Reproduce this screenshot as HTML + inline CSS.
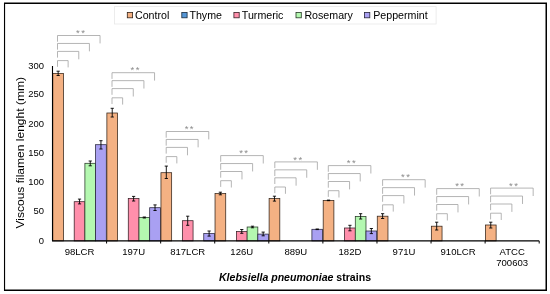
<!DOCTYPE html>
<html><head><meta charset="utf-8"><title>Chart</title>
<style>html,body{margin:0;padding:0;background:#fff}svg{display:block}text{font-family:"Liberation Sans",sans-serif;fill:#000}</style></head><body>
<svg width="550" height="294" viewBox="0 0 550 294">
<rect width="550" height="294" fill="#fff"/>
<path fill-rule="evenodd" fill="#000" d="M3.97 2.4H547V291H3.97ZM5.1 4V289.45H545.5V4Z"/>
<rect x="114.4" y="6.6" width="321.7" height="17.4" fill="#fff" stroke="#e8e8e8" stroke-width="0.8"/>
<rect x="127.3" y="12.5" width="5.3" height="5.3" fill="#F4B183" stroke="#33241a" stroke-width="0.8"/>
<text x="135.0" y="19" font-size="10.67">Control</text>
<rect x="181.8" y="12.5" width="5.3" height="5.3" fill="#5596D6" stroke="#182a3c" stroke-width="0.8"/>
<text x="189.4" y="19" font-size="10.67">Thyme</text>
<rect x="233.9" y="12.5" width="5.3" height="5.3" fill="#FF8FAB" stroke="#361e25" stroke-width="0.8"/>
<text x="241.8" y="19" font-size="10.67">Turmeric</text>
<rect x="296.0" y="12.5" width="5.3" height="5.3" fill="#B4F8B0" stroke="#263826" stroke-width="0.8"/>
<text x="304.4" y="19" font-size="10.67">Rosemary</text>
<rect x="364.5" y="12.5" width="5.3" height="5.3" fill="#A9A0F2" stroke="#25233a" stroke-width="0.8"/>
<text x="373.2" y="19" font-size="10.67">Peppermint</text>
<rect x="52.80" y="73.4" width="10.7" height="167.50" fill="#F4B183" stroke="#33241a" stroke-width="0.75"/>
<path d="M58.15 71.2V75.5M56.55 71.2h3.2M56.55 75.5h3.2" stroke="#000" stroke-width="0.9" fill="none"/>
<rect x="74.20" y="201.7" width="10.7" height="39.20" fill="#FF8FAB" stroke="#361e25" stroke-width="0.75"/>
<path d="M79.55 199.1V203.9M77.95 199.1h3.2M77.95 203.9h3.2" stroke="#000" stroke-width="0.9" fill="none"/>
<rect x="84.90" y="163.3" width="10.7" height="77.60" fill="#B4F8B0" stroke="#263826" stroke-width="0.75"/>
<path d="M90.25 161V165.8M88.65 161h3.2M88.65 165.8h3.2" stroke="#000" stroke-width="0.9" fill="none"/>
<rect x="95.60" y="144.7" width="10.7" height="96.20" fill="#A9A0F2" stroke="#25233a" stroke-width="0.75"/>
<path d="M100.95 140.7V149M99.35 140.7h3.2M99.35 149h3.2" stroke="#000" stroke-width="0.9" fill="none"/>
<rect x="106.88" y="113.0" width="10.7" height="127.90" fill="#F4B183" stroke="#33241a" stroke-width="0.75"/>
<path d="M112.23 108.3V117M110.63 108.3h3.2M110.63 117h3.2" stroke="#000" stroke-width="0.9" fill="none"/>
<rect x="128.28" y="198.6" width="10.7" height="42.30" fill="#FF8FAB" stroke="#361e25" stroke-width="0.75"/>
<path d="M133.63 196.4V201M132.03 196.4h3.2M132.03 201h3.2" stroke="#000" stroke-width="0.9" fill="none"/>
<rect x="138.98" y="217.5" width="10.7" height="23.40" fill="#B4F8B0" stroke="#263826" stroke-width="0.75"/>
<path d="M144.33 217V218M142.73 217h3.2M142.73 218h3.2" stroke="#000" stroke-width="0.9" fill="none"/>
<rect x="149.68" y="207.7" width="10.7" height="33.20" fill="#A9A0F2" stroke="#25233a" stroke-width="0.75"/>
<path d="M155.03 204.9V210.5M153.43 204.9h3.2M153.43 210.5h3.2" stroke="#000" stroke-width="0.9" fill="none"/>
<rect x="160.96" y="172.7" width="10.7" height="68.20" fill="#F4B183" stroke="#33241a" stroke-width="0.75"/>
<path d="M166.31 166.1V178.5M164.71 166.1h3.2M164.71 178.5h3.2" stroke="#000" stroke-width="0.9" fill="none"/>
<rect x="182.36" y="220.7" width="10.7" height="20.20" fill="#FF8FAB" stroke="#361e25" stroke-width="0.75"/>
<path d="M187.71 216.2V225.3M186.11 216.2h3.2M186.11 225.3h3.2" stroke="#000" stroke-width="0.9" fill="none"/>
<rect x="203.76" y="233.6" width="10.7" height="7.30" fill="#A9A0F2" stroke="#25233a" stroke-width="0.75"/>
<path d="M209.11 231V236.1M207.51 231h3.2M207.51 236.1h3.2" stroke="#000" stroke-width="0.9" fill="none"/>
<rect x="215.03" y="193.5" width="10.7" height="47.40" fill="#F4B183" stroke="#33241a" stroke-width="0.75"/>
<path d="M220.38 192.2V194.8M218.78 192.2h3.2M218.78 194.8h3.2" stroke="#000" stroke-width="0.9" fill="none"/>
<rect x="236.43" y="231.6" width="10.7" height="9.30" fill="#FF8FAB" stroke="#361e25" stroke-width="0.75"/>
<path d="M241.78 229.5V233.3M240.18 229.5h3.2M240.18 233.3h3.2" stroke="#000" stroke-width="0.9" fill="none"/>
<rect x="247.13" y="227" width="10.7" height="13.90" fill="#B4F8B0" stroke="#263826" stroke-width="0.75"/>
<path d="M252.48 226.2V227.8M250.88 226.2h3.2M250.88 227.8h3.2" stroke="#000" stroke-width="0.9" fill="none"/>
<rect x="257.83" y="234.1" width="10.7" height="6.80" fill="#A9A0F2" stroke="#25233a" stroke-width="0.75"/>
<path d="M263.18 232.1V235.8M261.58 232.1h3.2M261.58 235.8h3.2" stroke="#000" stroke-width="0.9" fill="none"/>
<rect x="269.11" y="198.5" width="10.7" height="42.40" fill="#F4B183" stroke="#33241a" stroke-width="0.75"/>
<path d="M274.46 196.2V201.1M272.86 196.2h3.2M272.86 201.1h3.2" stroke="#000" stroke-width="0.9" fill="none"/>
<rect x="311.91" y="229.3" width="10.7" height="11.60" fill="#A9A0F2" stroke="#25233a" stroke-width="0.75"/>
<path d="M317.26 229V229.6M315.66 229h3.2M315.66 229.6h3.2" stroke="#000" stroke-width="0.9" fill="none"/>
<rect x="323.19" y="200.4" width="10.7" height="40.50" fill="#F4B183" stroke="#33241a" stroke-width="0.75"/>
<path d="M328.54 200.1V200.7M326.94 200.1h3.2M326.94 200.7h3.2" stroke="#000" stroke-width="0.9" fill="none"/>
<rect x="344.59" y="228" width="10.7" height="12.90" fill="#FF8FAB" stroke="#361e25" stroke-width="0.75"/>
<path d="M349.94 225.3V230.8M348.34 225.3h3.2M348.34 230.8h3.2" stroke="#000" stroke-width="0.9" fill="none"/>
<rect x="355.29" y="216.4" width="10.7" height="24.50" fill="#B4F8B0" stroke="#263826" stroke-width="0.75"/>
<path d="M360.64 213.7V219M359.04 213.7h3.2M359.04 219h3.2" stroke="#000" stroke-width="0.9" fill="none"/>
<rect x="365.99" y="231" width="10.7" height="9.90" fill="#A9A0F2" stroke="#25233a" stroke-width="0.75"/>
<path d="M371.34 228.5V233.6M369.74 228.5h3.2M369.74 233.6h3.2" stroke="#000" stroke-width="0.9" fill="none"/>
<rect x="377.27" y="216.2" width="10.7" height="24.70" fill="#F4B183" stroke="#33241a" stroke-width="0.75"/>
<path d="M382.62 213.7V218.5M381.02 213.7h3.2M381.02 218.5h3.2" stroke="#000" stroke-width="0.9" fill="none"/>
<rect x="431.34" y="226.2" width="10.7" height="14.70" fill="#F4B183" stroke="#33241a" stroke-width="0.75"/>
<path d="M436.69 222.2V230M435.09 222.2h3.2M435.09 230h3.2" stroke="#000" stroke-width="0.9" fill="none"/>
<rect x="485.42" y="225" width="10.7" height="15.90" fill="#F4B183" stroke="#33241a" stroke-width="0.75"/>
<path d="M490.77 222.2V228M489.17 222.2h3.2M489.17 228h3.2" stroke="#000" stroke-width="0.9" fill="none"/>
<path d="M57.50 41.70V35.50H100.06V43.40" stroke="#a2a2a2" stroke-width="0.8" fill="none"/>
<path d="M57.50 49.65V43.45H89.42V51.35" stroke="#a2a2a2" stroke-width="0.8" fill="none"/>
<path d="M57.50 57.60V51.40H78.78V59.30" stroke="#a2a2a2" stroke-width="0.8" fill="none"/>
<path d="M57.50 66.80V60.60H68.14V67.40" stroke="#a2a2a2" stroke-width="0.8" fill="none"/>
<text y="36.10" font-size="9.5" text-anchor="middle" style="fill:#8c8c8c"><tspan x="77.80">*</tspan><tspan x="83.00">*</tspan></text>
<path d="M112.00 78.90V72.70H154.56V80.60" stroke="#a2a2a2" stroke-width="0.8" fill="none"/>
<path d="M112.00 86.85V80.65H143.92V88.55" stroke="#a2a2a2" stroke-width="0.8" fill="none"/>
<path d="M112.00 94.80V88.60H133.28V96.50" stroke="#a2a2a2" stroke-width="0.8" fill="none"/>
<path d="M112.00 104.00V97.80H122.64V104.60" stroke="#a2a2a2" stroke-width="0.8" fill="none"/>
<text y="73.30" font-size="9.5" text-anchor="middle" style="fill:#8c8c8c"><tspan x="132.30">*</tspan><tspan x="137.50">*</tspan></text>
<path d="M166.20 137.70V131.50H208.76V139.40" stroke="#a2a2a2" stroke-width="0.8" fill="none"/>
<path d="M166.20 145.65V139.45H198.12V147.35" stroke="#a2a2a2" stroke-width="0.8" fill="none"/>
<path d="M166.20 153.60V147.40H187.48V155.30" stroke="#a2a2a2" stroke-width="0.8" fill="none"/>
<path d="M166.20 162.80V156.60H176.84V163.40" stroke="#a2a2a2" stroke-width="0.8" fill="none"/>
<text y="132.10" font-size="9.5" text-anchor="middle" style="fill:#8c8c8c"><tspan x="186.50">*</tspan><tspan x="191.70">*</tspan></text>
<path d="M220.70 161.80V155.60H263.26V163.50" stroke="#a2a2a2" stroke-width="0.8" fill="none"/>
<path d="M220.70 169.75V163.55H252.62V171.45" stroke="#a2a2a2" stroke-width="0.8" fill="none"/>
<path d="M220.70 177.70V171.50H241.98V179.40" stroke="#a2a2a2" stroke-width="0.8" fill="none"/>
<path d="M220.70 186.90V180.70H231.34V187.50" stroke="#a2a2a2" stroke-width="0.8" fill="none"/>
<text y="156.20" font-size="9.5" text-anchor="middle" style="fill:#8c8c8c"><tspan x="241.00">*</tspan><tspan x="246.20">*</tspan></text>
<path d="M274.80 168.10V161.90H317.36V169.80" stroke="#a2a2a2" stroke-width="0.8" fill="none"/>
<path d="M274.80 176.05V169.85H306.72V177.75" stroke="#a2a2a2" stroke-width="0.8" fill="none"/>
<path d="M274.80 184.00V177.80H296.08V185.70" stroke="#a2a2a2" stroke-width="0.8" fill="none"/>
<path d="M274.80 193.20V187.00H285.44V193.80" stroke="#a2a2a2" stroke-width="0.8" fill="none"/>
<text y="162.50" font-size="9.5" text-anchor="middle" style="fill:#8c8c8c"><tspan x="295.10">*</tspan><tspan x="300.30">*</tspan></text>
<path d="M328.30 171.80V165.60H370.86V173.50" stroke="#a2a2a2" stroke-width="0.8" fill="none"/>
<path d="M328.30 179.75V173.55H360.22V181.45" stroke="#a2a2a2" stroke-width="0.8" fill="none"/>
<path d="M328.30 187.70V181.50H349.58V189.40" stroke="#a2a2a2" stroke-width="0.8" fill="none"/>
<path d="M328.30 196.90V190.70H338.94V197.50" stroke="#a2a2a2" stroke-width="0.8" fill="none"/>
<text y="166.20" font-size="9.5" text-anchor="middle" style="fill:#8c8c8c"><tspan x="348.60">*</tspan><tspan x="353.80">*</tspan></text>
<path d="M382.60 185.90V179.70H425.16V187.60" stroke="#a2a2a2" stroke-width="0.8" fill="none"/>
<path d="M382.60 193.85V187.65H414.52V195.55" stroke="#a2a2a2" stroke-width="0.8" fill="none"/>
<path d="M382.60 201.80V195.60H403.88V203.50" stroke="#a2a2a2" stroke-width="0.8" fill="none"/>
<path d="M382.60 211.00V204.80H393.24V211.60" stroke="#a2a2a2" stroke-width="0.8" fill="none"/>
<text y="180.30" font-size="9.5" text-anchor="middle" style="fill:#8c8c8c"><tspan x="402.90">*</tspan><tspan x="408.10">*</tspan></text>
<path d="M436.70 194.80V188.60H479.26V196.50" stroke="#a2a2a2" stroke-width="0.8" fill="none"/>
<path d="M436.70 202.75V196.55H468.62V204.45" stroke="#a2a2a2" stroke-width="0.8" fill="none"/>
<path d="M436.70 210.70V204.50H457.98V212.40" stroke="#a2a2a2" stroke-width="0.8" fill="none"/>
<path d="M436.70 219.90V213.70H447.34V220.50" stroke="#a2a2a2" stroke-width="0.8" fill="none"/>
<text y="189.20" font-size="9.5" text-anchor="middle" style="fill:#8c8c8c"><tspan x="457.00">*</tspan><tspan x="462.20">*</tspan></text>
<path d="M490.60 194.30V188.10H533.16V196.00" stroke="#a2a2a2" stroke-width="0.8" fill="none"/>
<path d="M490.60 202.25V196.05H522.52V203.95" stroke="#a2a2a2" stroke-width="0.8" fill="none"/>
<path d="M490.60 210.20V204.00H511.88V211.90" stroke="#a2a2a2" stroke-width="0.8" fill="none"/>
<path d="M490.60 219.40V213.20H501.24V220.00" stroke="#a2a2a2" stroke-width="0.8" fill="none"/>
<text y="188.70" font-size="9.5" text-anchor="middle" style="fill:#8c8c8c"><tspan x="510.90">*</tspan><tspan x="516.10">*</tspan></text>
<path d="M52.5 66V240.9" stroke="#000" stroke-width="1.1" fill="none"/>
<path d="M52.0 240.9H539.2" stroke="#000" stroke-width="1.1" fill="none"/>
<path d="M106.58 240.9v2.6" stroke="#000" stroke-width="1" fill="none"/>
<path d="M160.66 240.9v2.6" stroke="#000" stroke-width="1" fill="none"/>
<path d="M214.73 240.9v2.6" stroke="#000" stroke-width="1" fill="none"/>
<path d="M268.81 240.9v2.6" stroke="#000" stroke-width="1" fill="none"/>
<path d="M322.89 240.9v2.6" stroke="#000" stroke-width="1" fill="none"/>
<path d="M376.97 240.9v2.6" stroke="#000" stroke-width="1" fill="none"/>
<path d="M431.04 240.9v2.6" stroke="#000" stroke-width="1" fill="none"/>
<path d="M485.12 240.9v2.6" stroke="#000" stroke-width="1" fill="none"/>
<path d="M539.20 240.9v2.6" stroke="#000" stroke-width="1" fill="none"/>
<text x="43.9" y="243.50" font-size="9.45" text-anchor="end">0</text>
<text x="43.9" y="214.45" font-size="9.45" text-anchor="end">50</text>
<text x="43.9" y="185.00" font-size="9.45" text-anchor="end">100</text>
<text x="43.9" y="155.95" font-size="9.45" text-anchor="end">150</text>
<text x="43.9" y="126.60" font-size="9.45" text-anchor="end">200</text>
<text x="43.9" y="97.25" font-size="9.45" text-anchor="end">250</text>
<text x="43.9" y="68.80" font-size="9.45" text-anchor="end">300</text>
<text x="79.54" y="254.9" font-size="9.55" text-anchor="middle">98LCR</text>
<text x="133.62" y="254.9" font-size="9.55" text-anchor="middle">197U</text>
<text x="187.69" y="254.9" font-size="9.55" text-anchor="middle">817LCR</text>
<text x="241.77" y="254.9" font-size="9.55" text-anchor="middle">126U</text>
<text x="295.85" y="254.9" font-size="9.55" text-anchor="middle">889U</text>
<text x="349.93" y="254.9" font-size="9.55" text-anchor="middle">182D</text>
<text x="404.01" y="254.9" font-size="9.55" text-anchor="middle">971U</text>
<text x="458.08" y="254.9" font-size="9.55" text-anchor="middle">910LCR</text>
<text x="512.16" y="254.9" font-size="9.55" text-anchor="middle">ATCC</text>
<text x="512.16" y="265.8" font-size="9.55" text-anchor="middle">700603</text>
<text x="295" y="280.6" font-size="10.57" font-weight="bold" text-anchor="middle"><tspan font-style="italic">Klebsiella pneumoniae</tspan> strains</text>
<text transform="translate(23.6 152.8) rotate(-90)" font-size="10.5" text-anchor="middle" textLength="151.5" lengthAdjust="spacingAndGlyphs">Viscous filamen lenght (mm)</text>
</svg></body></html>
